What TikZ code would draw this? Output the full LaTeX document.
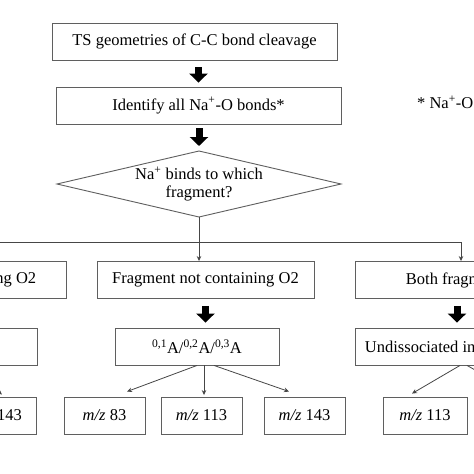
\documentclass[tikz,border=0pt]{standalone}
\usepackage{fontspec}
\setmainfont{Liberation Serif}
\usetikzlibrary{arrows.meta}
\definecolor{boxc}{RGB}{95,95,95}
\definecolor{linec}{RGB}{70,70,70}
\tikzset{
  txt/.style={font=\fontsize{16.5}{18}\selectfont, inner sep=0pt},
  box/.style={txt, draw=boxc, line width=0.9pt, anchor=center, minimum height=37},
  fat/.style={line width=7pt, -{Triangle[width=18pt,length=9pt]}, black},
  thin/.style={draw=linec, line width=0.8pt, -{Stealth[length=5pt,width=4.5pt]}},
  plain/.style={draw=linec, line width=0.8pt}
}
\begin{document}
\begin{tikzpicture}[x=1pt,y=-1pt]
\useasboundingbox (0,0) rectangle (474,474);
\fill[white] (0,0) rectangle (474,474);
\clip (0,0) rectangle (474,474);
% top chain
\node[box, minimum width=285] (b1) at (194.5,41.5) {TS geometries of C-C bond cleavage};
\node[box, minimum width=285] (b2) at (198.5,105.5) {Identify all Na\textsuperscript{+}-O bonds*};
\node[txt, anchor=west] (note) at (417,102) {* Na\textsuperscript{+}-O};
\draw[fat, shorten <=7pt, shorten >=4pt] (b1.south -| b2) -- (b2.north);
% diamond
\coordinate (dtop) at (199,151);
\coordinate (dl) at (57,184);
\coordinate (dr) at (341,184);
\coordinate (dbot) at (199,217);
\draw[draw=boxc, line width=0.9pt] (dtop) -- (dr) -- (dbot) -- (dl) -- cycle;
\node[txt, align=center] (dq) at (199,184) {Na\textsuperscript{+} binds to which\\fragment?};
\draw[fat, shorten <=4pt, shorten >=5pt] (b2.south -| dtop) -- (dtop);
% second row
\node[box, minimum width=221] (f1) at (-44.5,280) {Fragment containing O2};
\node[box, minimum width=217] (f2) at (205.5,280) {Fragment not containing O2};
\node[box, minimum width=204] (f3) at (457,280) {Both fragments};
\coordinate (hl) at (-5,242);
\coordinate (hr) at (461,242);
\draw[plain] (hl) -- (hr);
\draw[thin] (dbot) -- (dbot |- f2.north);
\draw[thin] (hr) -- (hr |- f3.north);
% third row
\node[box, minimum width=160] (l2) at (-43,346.5) {};
\node[box, minimum width=164] (a) at (197,346.5) {\textsuperscript{0,1}A/\textsuperscript{0,2}A/\textsuperscript{0,3}A};
\node[box, minimum width=200] (u) at (455,346.5) {Undissociated intermediate};
\draw[fat, shorten <=7pt, shorten >=5pt] (f2.south) -- (f2.south |- a.north);
\draw[fat, shorten <=7pt, shorten >=5pt] (f3.south) -- (f3.south |- u.north);
% bottom row
\node[box, minimum width=81] (m0) at (-4,415.5) {\textit{m/z} 143};
\node[box, minimum width=81] (m1) at (104.5,415.5) {\textit{m/z} 83};
\node[box, minimum width=81] (m2) at (201.5,415.5) {\textit{m/z} 113};
\node[box, minimum width=81] (m3) at (304.5,415.5) {\textit{m/z} 143};
\node[box, minimum width=84] (m4) at (425,415.5) {\textit{m/z} 113};
\coordinate (rr) at (520,395);
\draw[thin] ([xshift=10pt]l2.south) -- ([shift={(6,-2)}]m0.north);
\draw[thin] (a.south) -- ([shift={(22.5,-5)}]m1.north);
\draw[thin, shorten >=1.5pt] ([xshift=7pt]a.south) -- ([xshift=7pt]a.south |- m2.north);
\draw[thin] ([xshift=17pt]a.south) -- ([shift={(-15.5,-5)}]m3.north);
\draw[thin] ([xshift=5pt]u.south) -- ([shift={(-13,-3)}]m4.north);
\draw[plain] ([xshift=12pt]u.south) -- (rr);
\end{tikzpicture}
\end{document}
